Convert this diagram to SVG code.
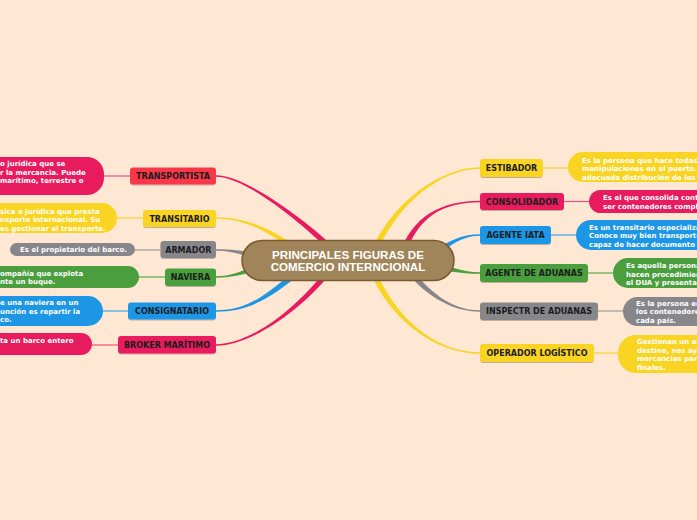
<svg xmlns="http://www.w3.org/2000/svg" width="697" height="520" viewBox="0 0 697 520">
<defs>
<filter id="sh" x="-10%" y="-20%" width="120%" height="150%">
<feDropShadow dx="0" dy="1" stdDeviation="0.7" flood-color="#000" flood-opacity="0.25"/>
</filter>
<style>
.lbl{font-family:"DejaVu Sans",Verdana,sans-serif;font-weight:bold;font-size:8px;fill:#1c1c1c;text-anchor:middle}
.dsc{font-family:"DejaVu Sans",Verdana,sans-serif;font-weight:bold;font-size:7px;fill:#ffffff}
.ctr{font-family:"Liberation Sans",Arial,sans-serif;font-weight:bold;font-size:11.6px;fill:#ffffff;text-anchor:middle}
.red{fill:#f8394a}.pink{fill:#e81b5f}.yel{fill:#f9d423}.gry{fill:#87878b}.grn{fill:#4a9e3d}.blu{fill:#1e96e6}
.ln{fill:none;stroke-width:1.2}
</style>
</defs>
<rect width="697" height="520" fill="#fee8d3"/>

<g id="connectors">
<path class="pink" d="M216,175.3 C250,175.3 322.2,233 347.2,260 L342.8,264 C317.8,237 250,176.7 216,176.7 Z"/>
<path class="yel" d="M216,217.3 C255,217.3 287,237.7 312,259.7 L308,264.3 C283,242.3 255,218.7 216,218.7 Z"/>
<path class="gry" d="M216,249.3 C235,249.3 251.1,251.2 271.1,259.2 L268.9,264.8 C248.9,256.8 235,250.7 216,250.7 Z"/>
<path class="grn" d="M216,276.3 C235,276.3 249,267.2 269,260.2 L271,265.8 C251,272.8 235,277.7 216,277.7 Z"/>
<path class="blu" d="M216,310.3 C250,310.3 268.1,292.7 298.1,267.7 L301.9,272.3 C271.9,297.3 250,311.7 216,311.7 Z"/>
<path class="pink" d="M216,344.3 C255,344.3 307.5,298.4 332.5,260.4 L337.5,263.6 C312.5,301.7 255,345.7 216,345.7 Z"/>
<path class="yel" d="M480,168.7 C440,168.7 392.8,206 372.8,263 L367.2,261 C387.2,204 440,167.3 480,167.3 Z"/>
<path class="pink" d="M480,202.2 C440,202.2 414.9,218.8 402.9,262.8 L397.1,261.2 C409.1,217.2 440,200.8 480,200.8 Z"/>
<path class="blu" d="M480,235.7 C460,235.7 447,247.3 427,264.3 L423,259.7 C443,242.7 460,234.3 480,234.3 Z"/>
<path class="grn" d="M480,273.7 C460,273.7 444.1,270.9 424.1,264.9 L425.9,259.1 C445.9,265.1 460,272.3 480,272.3 Z"/>
<path class="gry" d="M480,311.7 C450,311.7 422.6,293.8 402.6,266.8 L407.4,263.2 C427.4,290.2 450,310.3 480,310.3 Z"/>
<path class="yel" d="M480,353.7 C430,353.7 382.1,310.9 367.1,262.9 L372.9,261.1 C387.9,309.1 430,352.3 480,352.3 Z"/>
<path class="ln" stroke="#ec4f80" d="M104,176 H130"/>
<path class="ln" stroke="#f6d233" d="M117,218 H143"/>
<path class="ln" stroke="#9a9a9e" d="M135,250 H160"/>
<path class="ln" stroke="#5aa84e" d="M139,277 H165"/>
<path class="ln" stroke="#3fa3ea" d="M103,311 H128"/>
<path class="ln" stroke="#ec4f80" d="M92,345 H118"/>
<path class="ln" stroke="#f6d233" d="M543,168 H568"/>
<path class="ln" stroke="#ec4f80" d="M564,201.5 H589"/>
<path class="ln" stroke="#3fa3ea" d="M551,235 H576"/>
<path class="ln" stroke="#5aa84e" d="M588,273 H613"/>
<path class="ln" stroke="#9a9a9e" d="M598,311 H623"/>
<path class="ln" stroke="#f6d233" d="M594,353 H618"/>
</g>

<g id="center">
<rect x="242" y="240.5" width="212" height="40" rx="20" fill="#a0855a" stroke="#7a5a2e" stroke-width="1.5"/>
<text class="ctr" x="348" y="259">PRINCIPALES FIGURAS DE</text>
<text class="ctr" x="348" y="270.5">COMERCIO INTERNCIONAL</text>
</g>

<g id="transportista">
<rect class="red" x="130" y="167.5" width="86" height="17" rx="3" filter="url(#sh)"/>
<text class="lbl" x="173" y="179">TRANSPORTISTA</text>
<rect class="pink" x="-40" y="157" width="144" height="38" rx="17"/>
<text class="dsc" x="0" y="166">o jurídica que se</text>
<text class="dsc" x="0" y="174.5">r la mercancia. Puede</text>
<text class="dsc" x="0" y="183">marítimo, terrestre o</text>
</g>

<g id="transitario">
<rect class="yel" x="143" y="210" width="73" height="17" rx="3" filter="url(#sh)"/>
<text class="lbl" x="179.5" y="221.5">TRANSITARIO</text>
<rect class="yel" x="-40" y="203" width="157" height="30" rx="15"/>
<text class="dsc" x="0" y="213.5">sica o jurídica que presta</text>
<text class="dsc" x="0" y="222">nsporte internacional. Su</text>
<text class="dsc" x="0" y="230.5">es gestionar el transporte.</text>
</g>

<g id="armador">
<rect class="gry" x="160.5" y="241" width="55.5" height="17" rx="3" filter="url(#sh)"/>
<text class="lbl" x="188.3" y="252.8">ARMADOR</text>
<rect class="gry" x="10" y="243" width="125" height="13" rx="6.5"/>
<text class="dsc" x="20" y="252.3">Es el propietario del barco.</text>
</g>

<g id="naviera">
<rect class="grn" x="165" y="268.5" width="51" height="17.5" rx="3" filter="url(#sh)"/>
<text class="lbl" x="190.5" y="280.3">NAVIERA</text>
<rect class="grn" x="-40" y="266" width="179" height="22" rx="11"/>
<text class="dsc" x="0" y="275.5">ompañía que explota</text>
<text class="dsc" x="0" y="284">nte un buque.</text>
</g>

<g id="consignatario">
<rect class="blu" x="128" y="302.5" width="88" height="17" rx="3" filter="url(#sh)"/>
<text class="lbl" x="172" y="314">CONSIGNATARIO</text>
<rect class="blu" x="-40" y="296" width="143" height="30" rx="15"/>
<text class="dsc" x="0" y="305">e una naviera en un</text>
<text class="dsc" x="0" y="313.5">unción es repartir la</text>
<text class="dsc" x="0" y="322">co.</text>
</g>

<g id="broker">
<rect class="pink" x="118" y="336" width="98" height="17.5" rx="3" filter="url(#sh)"/>
<text class="lbl" x="167" y="348">BROKER MARÍTIMO</text>
<rect class="pink" x="-40" y="333" width="132" height="22" rx="11"/>
<text class="dsc" x="0" y="343">ta un barco entero</text>
</g>

<g id="estibador">
<rect class="yel" x="480" y="159" width="63" height="18" rx="3" filter="url(#sh)"/>
<text class="lbl" x="511.5" y="171">ESTIBADOR</text>
<rect class="yel" x="568" y="152" width="170" height="30" rx="15"/>
<text class="dsc" x="582" y="162.5">Es la persona que hace todas</text>
<text class="dsc" x="582" y="171">manipulaciones en el puerto.</text>
<text class="dsc" x="582" y="179.5">adecuada distribución de los p</text>
</g>

<g id="consolidador">
<rect class="pink" x="480" y="193" width="84" height="17" rx="3" filter="url(#sh)"/>
<text class="lbl" x="522" y="204.5">CONSOLIDADOR</text>
<rect class="pink" x="589" y="190" width="150" height="23" rx="11.5"/>
<text class="dsc" x="603" y="200">Es el que consolida cont</text>
<text class="dsc" x="603" y="209">ser contenedores compl</text>
</g>

<g id="agente-iata">
<rect class="blu" x="480" y="226" width="71" height="18" rx="3" filter="url(#sh)"/>
<text class="lbl" x="515.5" y="238">AGENTE IATA</text>
<rect class="blu" x="576" y="220" width="160" height="30" rx="15"/>
<text class="dsc" x="589" y="229.5">Es un transitario especializa</text>
<text class="dsc" x="589" y="238">Conoce muy bien transporte</text>
<text class="dsc" x="589" y="246.5">capaz de hacer documento</text>
</g>

<g id="agente-aduanas">
<rect class="grn" x="480" y="264" width="108" height="18" rx="3" filter="url(#sh)"/>
<text class="lbl" x="534" y="276">AGENTE DE ADUANAS</text>
<rect class="grn" x="613" y="258" width="130" height="30" rx="15"/>
<text class="dsc" x="626" y="268">Es aquella persona</text>
<text class="dsc" x="626" y="276.5">hacen procedimien</text>
<text class="dsc" x="626" y="285">el DUA y presenta</text>
</g>

<g id="inspector">
<rect class="gry" x="480" y="302.5" width="118" height="17.5" rx="3" filter="url(#sh)"/>
<text class="lbl" x="539" y="314.3">INSPECTR DE ADUANAS</text>
<rect class="gry" x="623" y="297" width="120" height="29" rx="14.5"/>
<text class="dsc" x="636" y="305.8">Es la persona en</text>
<text class="dsc" x="636" y="314.2">los contenedore</text>
<text class="dsc" x="636" y="322.6">cada país.</text>
</g>

<g id="operador">
<rect class="yel" x="480" y="344" width="114" height="18" rx="3" filter="url(#sh)"/>
<text class="lbl" x="537" y="356">OPERADOR LOGÍSTICO</text>
<rect class="yel" x="618" y="335" width="125" height="38" rx="18"/>
<text class="dsc" x="637" y="344">Gestionan un al</text>
<text class="dsc" x="637" y="352.5">destino, nos ayu</text>
<text class="dsc" x="637" y="361">mercancias par</text>
<text class="dsc" x="637" y="369.5">finales.</text>
</g>
</svg>
